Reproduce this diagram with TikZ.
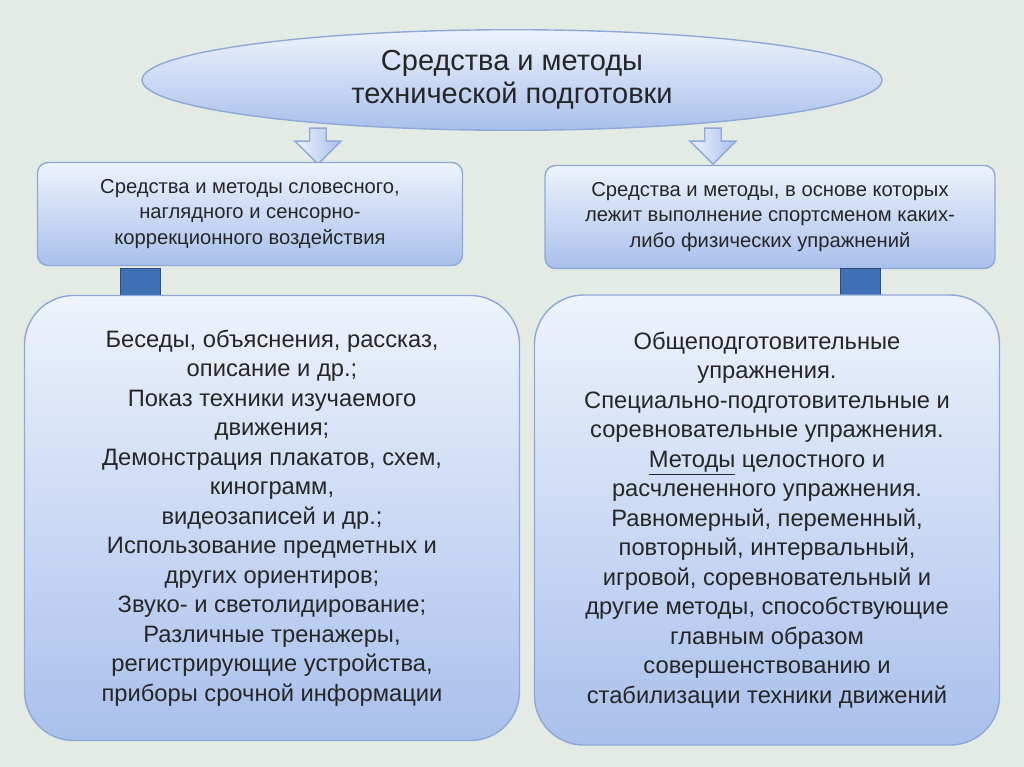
\documentclass[tikz,border=0pt]{standalone}
\usepackage{fontspec}
\setmainfont{Liberation Sans}
\usetikzlibrary{shapes.geometric,shapes.arrows,positioning}
\definecolor{bgcol}{HTML}{E4EAE4}
\definecolor{edgecol}{HTML}{8FA8D8}
\definecolor{lightcol}{HTML}{EEF3FC}
\definecolor{darkcol}{HTML}{A9C0EC}
\definecolor{linkcol}{HTML}{3F6FB5}
\definecolor{textcol}{HTML}{262626}
\tikzset{%
	base/.style = {draw=edgecol, line width=0.8pt, top color=lightcol,
		bottom color=darkcol, text centered, align=center, text=textcol},
	topoval/.style = {base, ellipse, minimum width=740*0.02cm, minimum height=100*0.02cm,
		font=\fontsize{16.5}{19}\selectfont},
	groupbox/.style = {base, rectangle, rounded corners=6pt,
		font=\fontsize{11.5}{14.5}\selectfont},
	listbox/.style = {base, rectangle, rounded corners=28pt,
		font=\fontsize{13.5}{16.8}\selectfont},
	downarrow/.style = {draw=edgecol, line width=0.8pt, left color=lightcol,
		right color=darkcol, single arrow, rotate=-90,
		minimum width=46*0.02cm, minimum height=36*0.02cm,
		single arrow head extend=0.15cm, inner sep=2pt},
	link/.style = {fill=linkcol, draw=linkcol!70!black, minimum width=40*0.02cm,
		minimum height=27*0.02cm, inner sep=0pt},
}
\begin{document}
\begin{tikzpicture}[x=0.02cm,y=-0.02cm]
\fill[bgcol] (0,0) rectangle (1024,767);
\useasboundingbox (0,0) rectangle (1024,767);

\node (title) [topoval] at (512,80) {Средства и методы\\технической подготовки};

\node (arrowL) [downarrow] at (318,142) {};
\node (arrowR) [downarrow] at (713,142) {};

\node (verbal) [groupbox, minimum width=425*0.02cm, minimum height=103*0.02cm] at (250,214)
	{Средства и методы словесного,\\наглядного и сенсорно-\\коррекционного воздействия};
\node (physical) [groupbox, minimum width=450*0.02cm, minimum height=103*0.02cm] at (770,217)
	{Средства и методы, в основе которых\\лежит выполнение спортсменом каких-\\либо физических упражнений};

\node (linkL) [link] at (140,282) {};
\node (linkR) [link] at (860,282) {};

\node (verballist) [listbox, minimum width=495*0.02cm, minimum height=445*0.02cm] at (272,518)
	{Беседы, объяснения, рассказ,\\описание и др.;\\Показ техники изучаемого\\движения;\\Демонстрация плакатов, схем,\\кинограмм,\\видеозаписей и др.;\\Использование предметных и\\других ориентиров;\\Звуко- и светолидирование;\\Различные тренажеры,\\регистрирующие устройства,\\приборы срочной информации};
\node (physlist) [listbox, minimum width=465*0.02cm, minimum height=450*0.02cm] at (767,520)
	{Общеподготовительные\\упражнения.\\Специально-подготовительные и\\соревновательные упражнения.\\\underline{Методы} целостного и\\расчлененного упражнения.\\Равномерный, переменный,\\повторный, интервальный,\\игровой, соревновательный и\\другие методы, способствующие\\главным образом\\совершенствованию и\\стабилизации техники движений};
\end{tikzpicture}
\end{document}
